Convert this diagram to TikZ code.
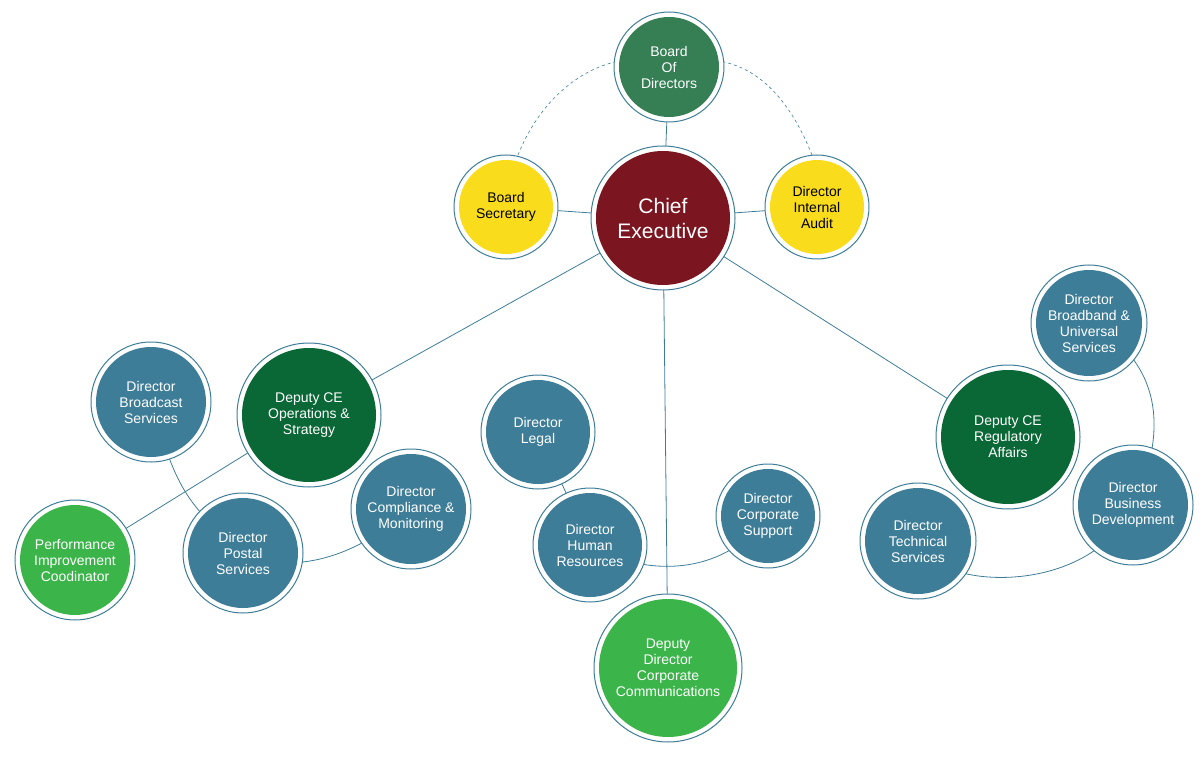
\documentclass[tikz,border=0pt]{standalone}
\usepackage{fontspec}
\setmainfont{Liberation Sans}
\begin{document}
\definecolor{ring}{HTML}{3E7D98}
\definecolor{blu}{HTML}{3E7D98}
\definecolor{dgreen}{HTML}{0A6736}
\definecolor{mgreen}{HTML}{367F55}
\definecolor{lgreen}{HTML}{3BB44A}
\definecolor{yel}{HTML}{F9DC1C}
\definecolor{red}{HTML}{7B1520}
\begin{tikzpicture}[x=1pt,y=-1pt,
  bub/.style n args={2}{circle,minimum size=#2*1pt,inner sep=0pt,draw=ring,line width=1pt,fill=white,
    align=center,text=white,font=\fontsize{14}{16}\selectfont,
    path picture={\fill[#1] (path picture bounding box.center) circle ({#2/2-5});}},
  con/.style={draw=blu,line width=0.8pt}]
\useasboundingbox (0,0) rectangle (1200,762);
\coordinate (c) at (0,0);
% nodes positions (drawn later)
\path
 (669,67) coordinate (pbod) (663,218) coordinate (pce) (506,207) coordinate (pbs)
 (817,207) coordinate (pia) (309,415) coordinate (pops) (151,402) coordinate (pbc)
 (411,509) coordinate (pcm) (243,553) coordinate (pps) (75,560) coordinate (ppi)
 (538,432) coordinate (plg) (590,545) coordinate (phr) (768,516) coordinate (pcs)
 (668,668) coordinate (pcc) (1008,437) coordinate (preg) (1089,323) coordinate (pbb)
 (1133,505) coordinate (pbd) (918,541) coordinate (ptec);
% connectors
\draw[con] (pbod) -- (pce);
\draw[con] (pbs) -- (pce) -- (pia);
\draw[con] (pce) -- (pops);
\draw[con] (pce) -- (preg);
\draw[con] (pce) -- (pcc);
\draw[con] (pops) -- (ppi);
\draw[con] (plg) -- (phr);
\draw[con] (pbc) .. controls (175,480) and (180,500) .. (pps);
\draw[con] (pps) .. controls (280,570) and (340,570) .. (pcm);
\draw[con] (phr) .. controls (640,575) and (720,580) .. (pcs);
\draw[con] (pbb) .. controls (1160,360) and (1170,430) .. (pbd);
\draw[con] (ptec) .. controls (930,590) and (1090,600) .. (pbd);
\draw[con,dashed,line width=0.6pt] (518,155) .. controls (540,100) and (580,70) .. (615,62);
\draw[con,dashed,line width=0.6pt] (812,155) .. controls (790,100) and (760,70) .. (724,62);
% nodes
\node[bub={mgreen}{110}] (bod) at (pbod) {Board\\Of\\Directors};
\node[bub={red}{144},font=\fontsize{21}{25}\selectfont] (ce) at (pce) {Chief\\Executive};
\node[bub={yel}{104},text=black] (bs) at (pbs) {Board\\Secretary};
\node[bub={yel}{104},text=black] (ia) at (pia) {Director\\Internal\\Audit};
\node[bub={dgreen}{144}] (ops) at (pops) {Deputy CE\\Operations \&\\Strategy};
\node[bub={blu}{120}] (bc) at (pbc) {Director\\Broadcast\\Services};
\node[bub={blu}{120}] (cm) at (pcm) {Director\\Compliance \&\\Monitoring};
\node[bub={blu}{120}] (ps) at (pps) {Director\\Postal\\Services};
\node[bub={lgreen}{120}] (pi) at (ppi) {Performance\\Improvement\\Coodinator};
\node[bub={blu}{114}] (lg) at (plg) {Director\\Legal};
\node[bub={blu}{114}] (hr) at (phr) {Director\\Human\\Resources};
\node[bub={blu}{104}] (cs) at (pcs) {Director\\Corporate\\Support};
\node[bub={lgreen}{148}] (cc) at (pcc) {Deputy\\Director\\Corporate\\Communications};
\node[bub={dgreen}{144}] (reg) at (preg) {Deputy CE\\Regulatory\\Affairs};
\node[bub={blu}{116}] (bb) at (pbb) {Director\\Broadband \&\\Universal\\Services};
\node[bub={blu}{120}] (bd) at (pbd) {Director\\Business\\Development};
\node[bub={blu}{116}] (tec) at (ptec) {Director\\Technical\\Services};
\end{tikzpicture}
\end{document}
